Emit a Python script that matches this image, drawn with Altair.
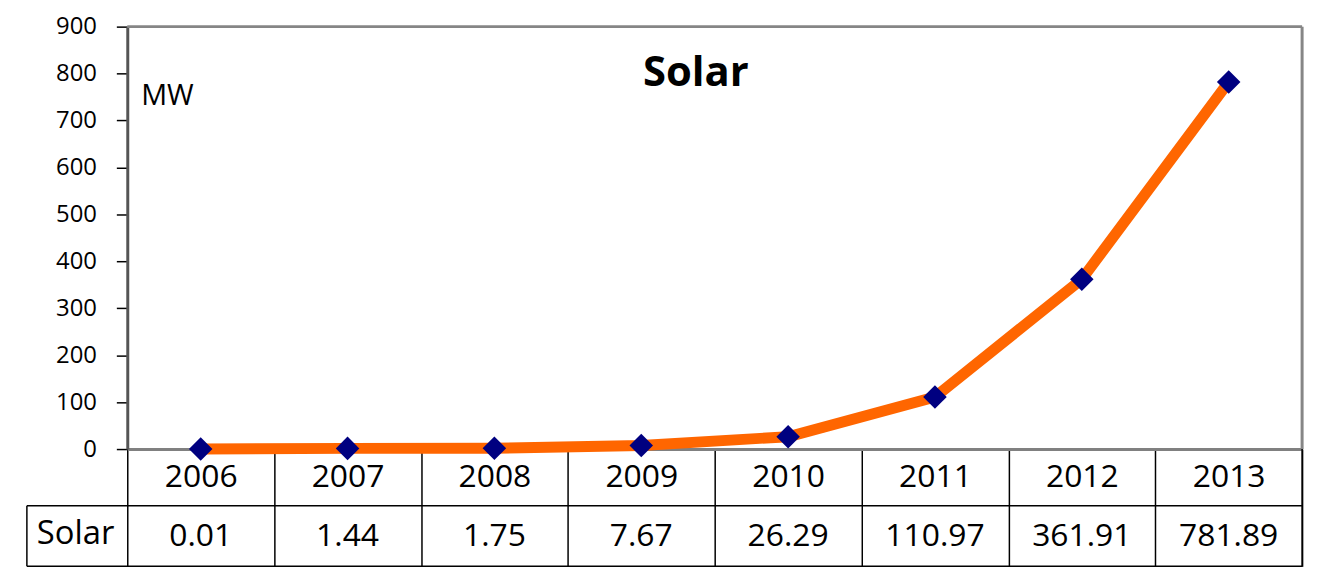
import altair as alt
import pandas as pd

years = ["2006", "2007", "2008", "2009", "2010", "2011", "2012", "2013"]
solar = [0.01, 1.44, 1.75, 7.67, 26.29, 110.97, 361.91, 781.89]
value_labels = ["0.01", "1.44", "1.75", "7.67", "26.29", "110.97", "361.91", "781.89"]
y_ticks = [0, 100, 200, 300, 400, 500, 600, 700, 800, 900]

df = pd.DataFrame({"year": years, "solar": solar, "label": value_labels})

TOP = 17
W, H = 1182, 442 - TOP
FONT = "Open Sans"

xenc = alt.X("year:N", sort=years, bandPosition=0.5,
             scale=alt.Scale(type="band", paddingInner=0, paddingOuter=0),
             axis=alt.Axis(title=None, tickBand="extent", tickSize=118, tickColor="black",
                           tickWidth=1.5, labelPadding=-105, labelFontSize=32,
                           labelFont=FONT, labelColor="black", labelAngle=0,
                           domainColor="#808080", domainWidth=3))
yenc = alt.Y("solar:Q", scale=alt.Scale(domain=[0, 900], nice=False),
             axis=alt.Axis(title=None, values=y_ticks, tickSize=11, tickColor="black",
                           tickWidth=1.5, labelFontSize=24, labelFont=FONT,
                           labelColor="black", labelPadding=20, grid=False,
                           domainColor="#555555", domainWidth=3))

base = alt.Chart(df)
one = base.transform_filter("datum.year == '2006'")

line = base.mark_line(color="#FF6600", strokeWidth=11).encode(x=xenc, y=yenc)
pts = base.mark_point(shape="diamond", filled=True, color="#000080", size=560, opacity=1).encode(
    x=alt.X("year:N", sort=years, bandPosition=0.5), y="solar:Q")

vals = base.mark_text(fontSize=32, font=FONT, color="black").encode(
    x=alt.X("year:N", sort=years, bandPosition=0.5), y=alt.value(H + 88), text="label:N")

row_name = one.mark_text(fontSize=33, font=FONT, color="black").encode(
    x=alt.value(-52), y=alt.value(H + 86), text=alt.value("Solar"))

rule_style = dict(color="black", strokeWidth=1.5)
hline1 = one.mark_rule(**rule_style).encode(x=alt.value(-101), x2=alt.value(W), y=alt.value(H + 57))
hline2 = one.mark_rule(**rule_style).encode(x=alt.value(-101), x2=alt.value(W), y=alt.value(H + 118))
vleft = one.mark_rule(**rule_style).encode(x=alt.value(-101), y=alt.value(H + 57), y2=alt.value(H + 118))
vright = one.mark_rule(**rule_style).encode(x=alt.value(W), y=alt.value(H), y2=alt.value(H + 118))

border_top = one.mark_rule(color="#868686", strokeWidth=3).encode(
    x=alt.value(0), x2=alt.value(W), y=alt.value(0))
border_right = one.mark_rule(color="#868686", strokeWidth=3).encode(
    x=alt.value(W), y=alt.value(0), y2=alt.value(H))

title = one.mark_text(fontSize=42, font=FONT, fontWeight="bold", color="black").encode(
    x=alt.value(572), y=alt.value(64 - TOP), text=alt.value("Solar"))
unit = one.mark_text(fontSize=29, font=FONT, color="black", align="left").encode(
    x=alt.value(14), y=alt.value(87 - TOP), text=alt.value("MW"))

chart = alt.layer(border_top, border_right, line, pts, vals, row_name, hline1, hline2,
                  vleft, vright, title, unit).properties(
    width=W, height=H,
    autosize=alt.AutoSizeParams(type="none"),
    padding={"left": 120, "top": TOP, "right": 16, "bottom": 130},
).configure_view(stroke=None).configure(background="white")

chart.save("out.html", embed_options={"renderer": "svg", "actions": False})
